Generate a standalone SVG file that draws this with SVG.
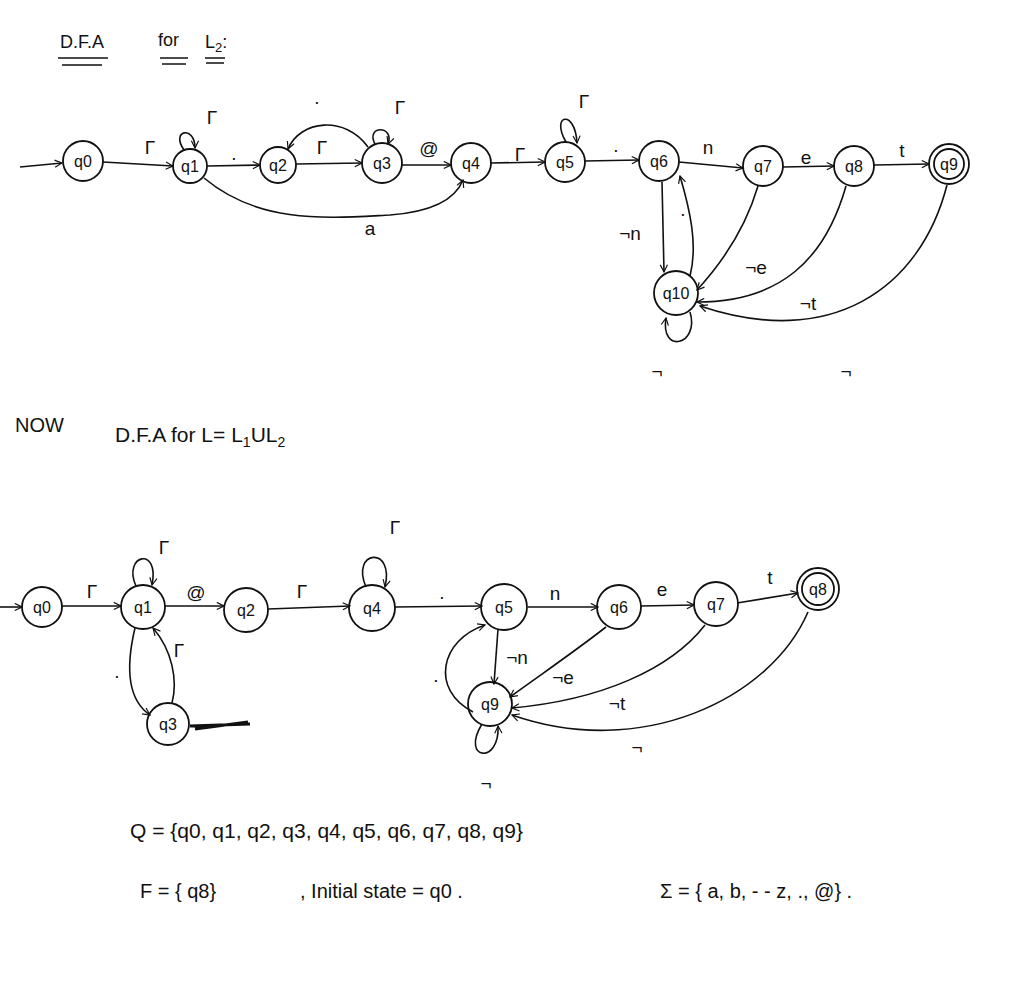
<svg xmlns="http://www.w3.org/2000/svg" width="1024" height="985" viewBox="0 0 1024 985">
<defs>
<marker id="ah" viewBox="0 0 10 10" refX="9" refY="5" markerWidth="9" markerHeight="9" orient="auto" markerUnits="userSpaceOnUse"><path d="M1,1 L9,5 L1,9" fill="none" stroke="#111" stroke-width="1.3"/></marker>
<style>
.n{fill:none;stroke:#111;stroke-width:1.8}
.e{fill:none;stroke:#111;stroke-width:1.6;marker-end:url(#ah)}
.p{fill:none;stroke:#111;stroke-width:1.6}
text{font-family:"Liberation Sans",sans-serif;fill:#111}
.s{font-size:16px;text-anchor:middle;dominant-baseline:central}
.l{font-size:19px;text-anchor:middle}
</style>
</defs>
<rect width="1024" height="985" fill="#fff"/>
<text x="60" y="48" font-size="18">D.F.A</text>
<text x="158" y="46" font-size="18">for</text>
<text x="205" y="48" font-size="18">L<tspan font-size="13" dy="4">2</tspan><tspan dy="-4">:</tspan></text>
<path class="p" d="M58 58 H108 M62 65 H102 M160 58 H188 M162 64 H186 M205 58 H225 M206 63 H224"/>
<text x="15" y="432" font-size="20">NOW</text>
<text x="115" y="442" font-size="21">D.F.A  for L= L<tspan font-size="14" dy="5">1</tspan><tspan dy="-5">UL</tspan><tspan font-size="14" dy="5">2</tspan></text>

<g id="edges-top">
<line class="e" x1="20" y1="167" x2="62" y2="163"/>
<line class="e" x1="103" y1="162" x2="173" y2="166"/>
<path class="e" d="M184 150 C170 130 195 125 195 148"/>
<line class="e" x1="207" y1="166" x2="260" y2="165"/>
<line class="e" x1="296" y1="164" x2="362" y2="163"/>
<path class="e" d="M368 147 C345 115 300 120 288 149"/>
<path class="e" d="M375 144 C365 125 395 125 388 144"/>
<line class="e" x1="402" y1="165" x2="451" y2="165"/>
<path class="e" d="M204 178 C260 225 330 218 390 215 C430 212 455 200 463 180"/>
<line class="e" x1="491" y1="163" x2="545" y2="162"/>
<path class="e" d="M566 142 C550 115 575 108 577 143"/>
<line class="e" x1="585" y1="161" x2="639" y2="160"/>
<line class="e" x1="679" y1="162" x2="743" y2="168"/>
<line class="e" x1="783" y1="167" x2="834" y2="166"/>
<line class="e" x1="874" y1="165" x2="929" y2="164"/>
<line class="e" x1="662" y1="182" x2="664" y2="272"/>
<path class="e" d="M690 276 C698 245 690 210 680 176"/>
<path class="e" d="M758 186 C745 230 720 265 697 290"/>
<path class="e" d="M846 186 C825 260 780 302 697 302"/>
<path class="e" d="M947 185 C920 290 830 350 700 306"/>
<path class="e" d="M690 312 C700 345 660 355 666 318"/>
</g>
<g id="labels-top">
<text class="l" x="150" y="154">Γ</text>
<text class="l" x="212" y="124">Γ</text>
<text class="l" x="234" y="160">.</text>
<text class="l" x="322" y="154">Γ</text>
<text class="l" x="317" y="104">.</text>
<text class="l" x="400" y="114">Γ</text>
<text class="l" x="429" y="155">@</text>
<text class="l" x="370" y="235">a</text>
<text class="l" x="520" y="161">Γ</text>
<text class="l" x="584" y="108">Γ</text>
<text class="l" x="616" y="152">.</text>
<text class="l" x="708" y="154">n</text>
<text class="l" x="806" y="164">e</text>
<text class="l" x="902" y="157">t</text>
<text class="l" x="630" y="240">¬n</text>
<text class="l" x="683" y="216">.</text>
<text class="l" x="756" y="274">¬e</text>
<text class="l" x="808" y="310">¬t</text>
<text class="l" x="657" y="378">¬</text>
<text class="l" x="846" y="378">¬</text>
</g>
<g id="q0t"><circle class="n" cx="83" cy="161" r="20"/><text class="s" x="83" y="161">q0</text></g>
<g id="q1t"><circle class="n" cx="190" cy="166" r="17"/><text class="s" x="190" y="166">q1</text></g>
<g id="q2t"><circle class="n" cx="278" cy="165" r="18"/><text class="s" x="278" y="165">q2</text></g>
<g id="q3t"><circle class="n" cx="382" cy="163" r="20"/><text class="s" x="382" y="163">q3</text></g>
<g id="q4t"><circle class="n" cx="471" cy="163" r="20"/><text class="s" x="471" y="163">q4</text></g>
<g id="q5t"><circle class="n" cx="565" cy="162" r="20"/><text class="s" x="565" y="162">q5</text></g>
<g id="q6t"><circle class="n" cx="659" cy="161" r="20"/><text class="s" x="659" y="161">q6</text></g>
<g id="q7t"><circle class="n" cx="763" cy="166" r="20"/><text class="s" x="763" y="166">q7</text></g>
<g id="q8t"><circle class="n" cx="854" cy="166" r="20"/><text class="s" x="854" y="166">q8</text></g>
<g id="q9t"><circle class="n" cx="949" cy="164" r="20"/><circle class="n" cx="949" cy="164" r="15"/><text class="s" x="949" y="164">q9</text></g>
<g id="q10t"><circle class="n" cx="676" cy="293" r="22"/><text class="s" x="676" y="293">q10</text></g>

<g id="edges-bottom">
<line class="e" x1="0" y1="607" x2="22" y2="607"/>
<line class="e" x1="62" y1="606" x2="121" y2="606"/>
<path class="e" d="M136 586 C122 555 160 545 152 585"/>
<line class="e" x1="165" y1="606" x2="224" y2="606"/>
<line class="e" x1="268" y1="609" x2="350" y2="606"/>
<path class="e" d="M366 587 C350 550 395 545 385 587"/>
<line class="e" x1="395" y1="607" x2="482" y2="606"/>
<line class="e" x1="528" y1="607" x2="598" y2="607"/>
<line class="e" x1="641" y1="606" x2="694" y2="605"/>
<line class="e" x1="737" y1="603" x2="798" y2="593"/>
<path class="e" d="M135 628 C125 670 128 700 150 715"/>
<path class="e" d="M172 703 C178 680 172 650 153 628"/>
<path d="M190 726 L250 724 M195 729 L248 722" stroke="#111" stroke-width="3" fill="none"/>
<line class="e" x1="498" y1="629" x2="494" y2="684"/>
<path class="e" d="M473 712 C430 690 440 640 485 625"/>
<path class="e" d="M606 627 C570 655 540 675 510 697"/>
<path class="e" d="M705 625 C670 670 600 700 512 708"/>
<path class="e" d="M808 612 C770 700 640 760 512 715"/>
<path class="e" d="M482 724 C460 760 500 765 498 726"/>
</g>
<g id="labels-bottom">
<text class="l" x="92" y="598">Γ</text>
<text class="l" x="164" y="554">Γ</text>
<text class="l" x="196" y="599">@</text>
<text class="l" x="302" y="598">Γ</text>
<text class="l" x="395" y="534">Γ</text>
<text class="l" x="442" y="599">.</text>
<text class="l" x="555" y="600">n</text>
<text class="l" x="662" y="596">e</text>
<text class="l" x="770" y="584">t</text>
<text class="l" x="117" y="678">.</text>
<text class="l" x="179" y="657">Γ</text>
<text class="l" x="436" y="682">.</text>
<text class="l" x="517" y="664">¬n</text>
<text class="l" x="563" y="684">¬e</text>
<text class="l" x="617" y="710">¬t</text>
<text class="l" x="637" y="754">¬</text>
<text class="l" x="486" y="790">¬</text>
</g>
<g id="q0b"><circle class="n" cx="42" cy="607" r="20"/><text class="s" x="42" y="607">q0</text></g>
<g id="q1b"><circle class="n" cx="143" cy="607" r="22"/><text class="s" x="143" y="607">q1</text></g>
<g id="q2b"><circle class="n" cx="246" cy="610" r="22"/><text class="s" x="246" y="610">q2</text></g>
<g id="q3b"><circle class="n" cx="168" cy="724" r="21"/><text class="s" x="168" y="724">q3</text></g>
<g id="q4b"><circle class="n" cx="372" cy="608" r="23"/><text class="s" x="372" y="608">q4</text></g>
<g id="q5b"><circle class="n" cx="504" cy="607" r="23"/><text class="s" x="504" y="607">q5</text></g>
<g id="q6b"><circle class="n" cx="619" cy="607" r="22"/><text class="s" x="619" y="607">q6</text></g>
<g id="q7b"><circle class="n" cx="716" cy="604" r="22"/><text class="s" x="716" y="604">q7</text></g>
<g id="q8b"><circle class="n" cx="818" cy="589" r="21"/><circle class="n" cx="818" cy="589" r="16"/><text class="s" x="818" y="589">q8</text></g>
<g id="q9b"><circle class="n" cx="490" cy="704" r="22"/><text class="s" x="490" y="704">q9</text></g>

<text x="130" y="838" font-size="21">Q = {q0, q1, q2, q3, q4, q5, q6, q7, q8, q9}</text>
<text x="140" y="898" font-size="20">F = { q8}</text>
<text x="300" y="898" font-size="20">,  Initial state = q0 .</text>
<text x="660" y="898" font-size="20">Σ = { a, b, - - z, ., @} .</text>
</svg>
